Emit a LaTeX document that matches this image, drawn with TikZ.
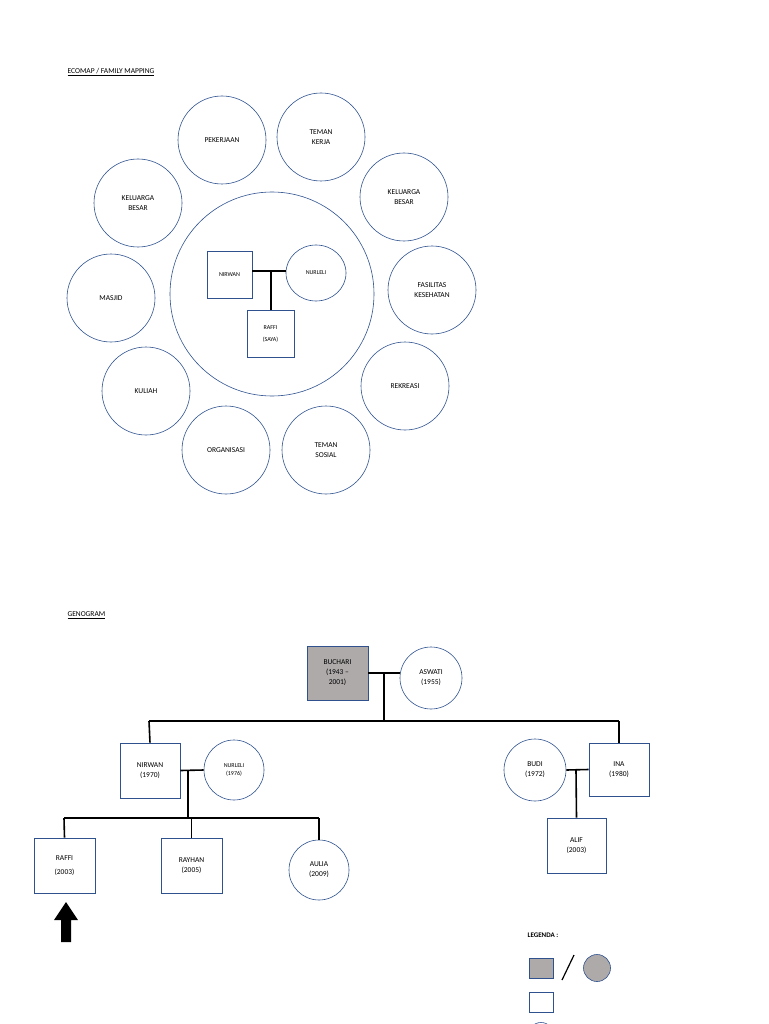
\documentclass[tikz,border=0pt]{standalone}
\usepackage{fontspec}
\setmainfont{Carlito}
\usetikzlibrary{shapes.geometric}
\definecolor{bl}{HTML}{2F528F}
\definecolor{gr}{HTML}{AEAAAA}
\begin{document}
\begin{tikzpicture}[x=1pt,y=-1pt,
  txt/.style={font=\fontsize{7.5}{10}\selectfont,align=center},
  circ/.style={circle,draw=bl,line width=0.6pt,inner sep=0pt,txt},
  box/.style={rectangle,draw=bl,line width=0.6pt,inner sep=0pt,txt},
  ln/.style={line width=1.6pt,black}]
\useasboundingbox (0,0) rectangle (768,1024);
\fill[white] (0,0) rectangle (768,1024);
\node[txt,anchor=west] (t1) at (64,72) {\underline{ECOMAP / FAMILY MAPPING}};
% ecomap
\node[circ,minimum size=204] (big) at (272,294) {};
\foreach \n/\x/\y/\t in {a/222/140/PEKERJAAN, b/321/137/TEMAN\\KERJA, c/138/203/KELUARGA\\BESAR, d/404/197/KELUARGA\\BESAR, e/111/298/MASJID, f/432/290/FASILITAS\\KESEHATAN, g/146/391/KULIAH/\\AKADEMIK, h/405/386/REKREASI, i/226/450/ORGANISASI, j/326/450/TEMAN\\SOSIAL}
  \node[circ,minimum size=88] (\n) at (\x,\y) {\t};
\node[box,minimum width=45,minimum height=47,font=\fontsize{6}{8}\selectfont] (en) at (229.5,274.5) {NIRWAN};
\node[ellipse,draw=bl,line width=0.6pt,minimum width=60,minimum height=56,inner sep=0pt,font=\fontsize{6}{8}\selectfont] (enl) at (316,273) {NURLELI};
\node[box,minimum width=47,minimum height=47,font=\fontsize{6}{12}\selectfont] (er) at (270.5,333.5) {RAFFI\\(SAYA)};
\coordinate (em) at (271,271);
\draw[ln] (en.east |- em) -- (enl.west |- em);
\draw[ln] (em) -- (em |- er.north);
% genogram
\node[txt,anchor=west] (t2) at (64,615) {\underline{GENOGRAM}};
\node[box,fill=gr,minimum width=61,minimum height=54] (bu) at (337.5,673) {BUCHARI\\(1943 --\\2001)};
\node[circ,minimum size=62] (as) at (431,678) {ASWATI\\(1955)};
\coordinate (m1) at (384,673);
\draw[ln] (bu.east |- m1) -- (as.west |- m1);
\coordinate (h1) at (384,721);
\coordinate (h1l) at (149,721);
\coordinate (h1r) at (619,721);
\draw[ln] (m1) -- (h1);
\draw[ln] (h1l) -- (h1r);
\node[box,minimum width=60,minimum height=55] (ni) at (150,770.5) {NIRWAN\\(1970)};
\node[circ,minimum size=60,font=\fontsize{6}{8}\selectfont] (nu) at (234,770) {NURLELI\\(1976)};
\node[circ,minimum size=62] (bd) at (535,770) {BUDI\\(1972)};
\node[box,minimum width=60,minimum height=53] (in) at (619,769.5) {INA\\(1980)};
\draw[ln] (h1l) -- (ni.north);
\draw[ln] (h1r) -- (in.north);
\coordinate (m2) at (188,770);
\draw[ln] (ni.east) -- (nu.west);
\coordinate (h2) at (188,818);
\draw[ln] (m2) -- (h2);
\coordinate (h2l) at (64,818);
\coordinate (h2r) at (319,818);
\draw[ln] (h2l) -- (h2r);
\node[box,minimum width=61,minimum height=55,font=\fontsize{7.5}{14}\selectfont] (ra) at (64.5,865.5) {RAFFI\\(2003)};
\node[box,minimum width=61,minimum height=55] (ry) at (191.5,865.5) {RAYHAN\\(2005)};
\node[circ,minimum size=60] (au) at (319,870) {AULIA\\(2009)};
\draw[ln] (h2l) -- (ra.north);
\draw[ln] (h2l -| ry.north) -- (ry.north);
\draw[ln] (h2r) -- (au.north);
\coordinate (m3) at (576,770);
\draw[ln] (bd.east) -- (in.west);
\node[box,minimum width=59,minimum height=55] (al) at (576.5,845.5) {ALIF\\(2003)};
\draw[ln] (m3) -- (al.north);
% arrow
\fill[black] (61,942) -- (71,942) -- (71,920) -- (78,920) -- (66,902) -- (54,920) -- (61,920) -- cycle;
% legend
\node[txt,anchor=west,font=\fontsize{7}{9}\selectfont\bfseries] (lg) at (524,935) {LEGENDA :};
\node[box,fill=gr,minimum width=24,minimum height=20] (l1) at (541,968) {};
\coordinate (s1) at (562,980);
\coordinate (s2) at (574,955);
\draw[line width=1.2pt] (s1) -- (s2);
\node[circ,fill=gr,minimum size=27] (l2) at (597,968) {};
\node[box,minimum width=24,minimum height=20] (l3) at (541,1002) {};
\node[circ,minimum size=27] (l4) at (541,1036) {};
\end{tikzpicture}
\end{document}
